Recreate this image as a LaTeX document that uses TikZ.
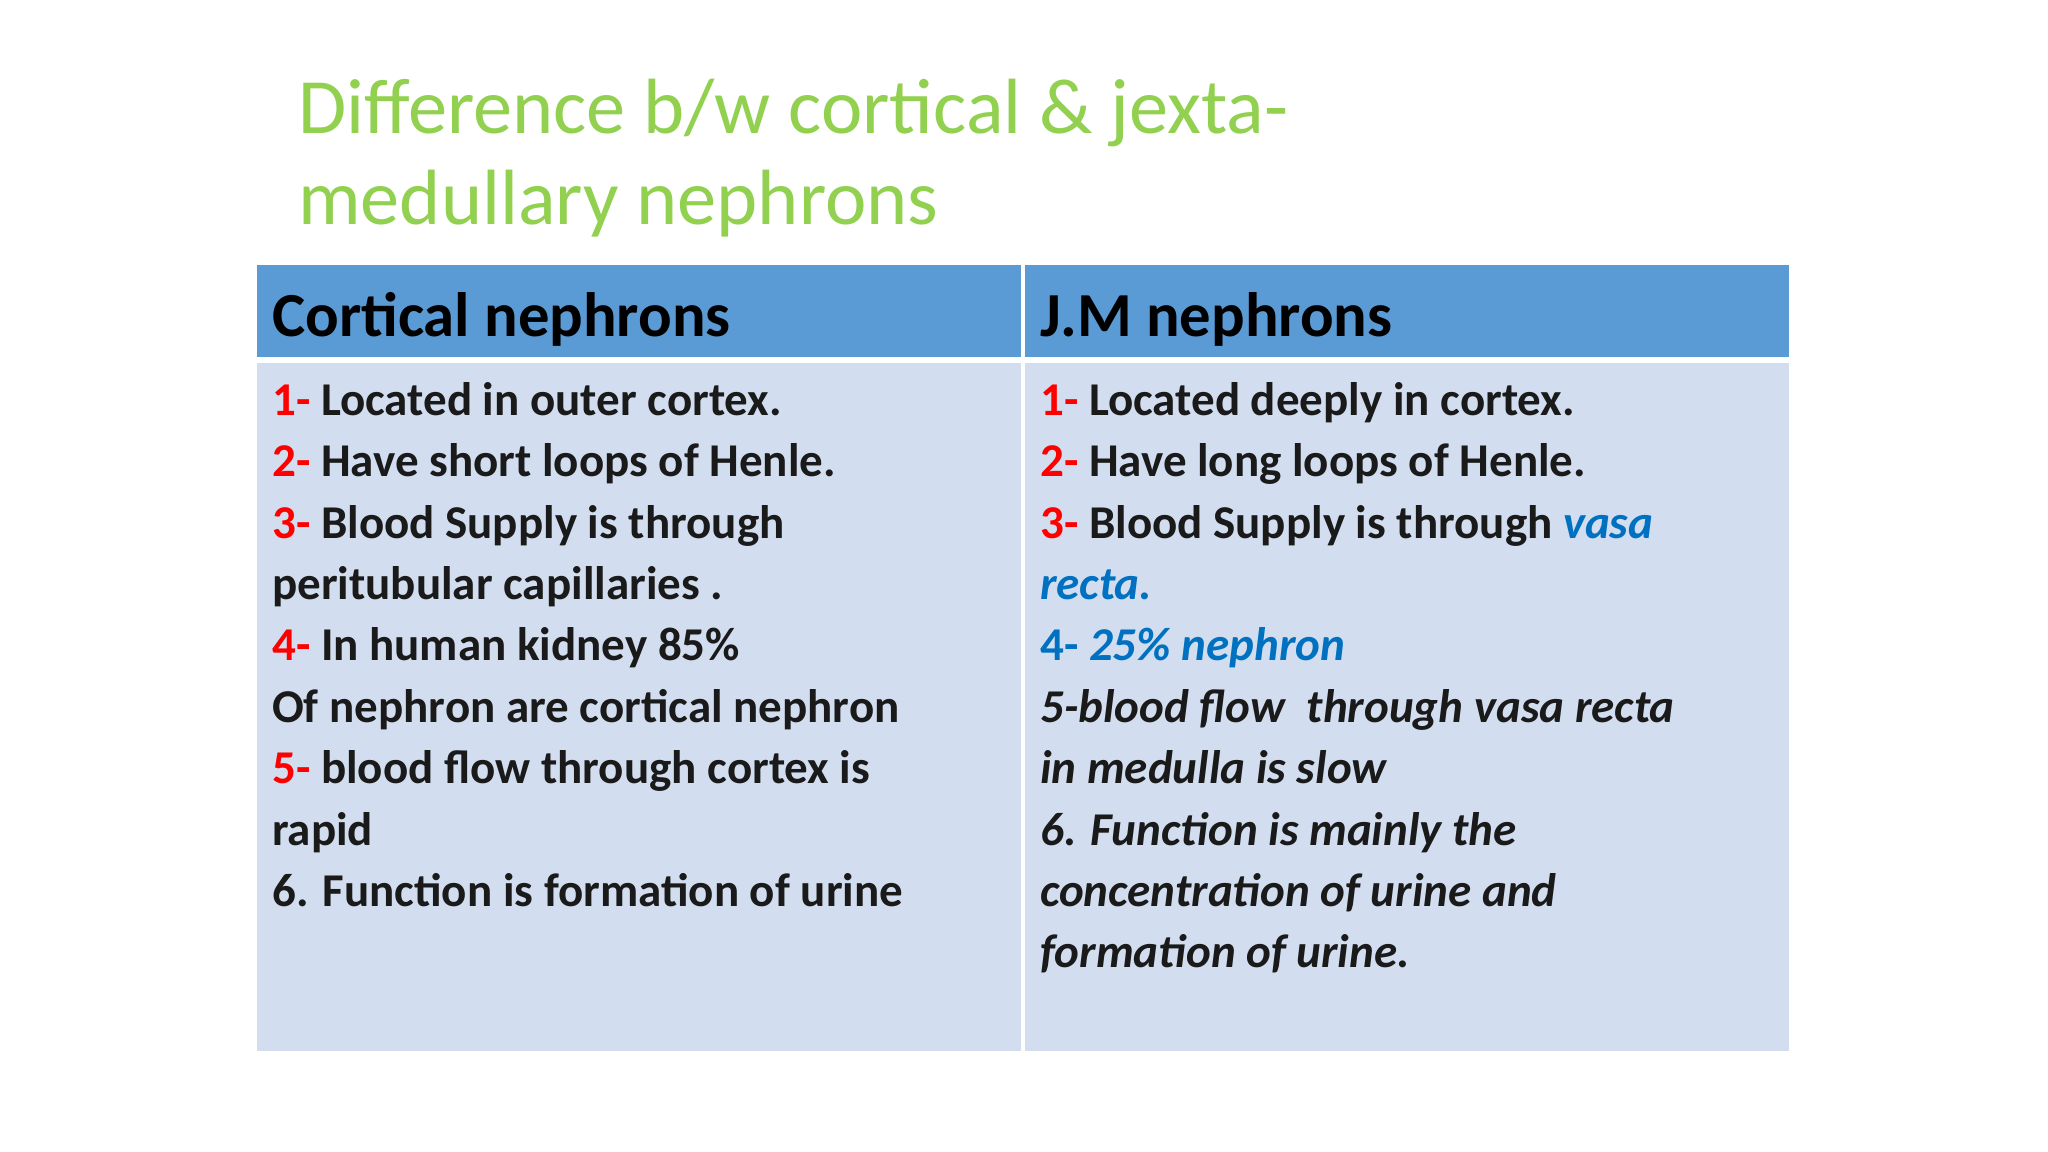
\documentclass[tikz,border=0pt]{standalone}
\usepackage{fontspec}
\setmainfont{Carlito}
\definecolor{hdr}{HTML}{5B9BD5}
\definecolor{bdy}{HTML}{D2DEEF}
\definecolor{ttl}{HTML}{92D050}
\definecolor{txt}{HTML}{1A1A1A}
\definecolor{nb}{HTML}{0070C0}
\definecolor{rd}{HTML}{FF0000}
\begin{document}
\begin{tikzpicture}[x=0.5pt,y=-0.5pt,
  ln/.style={anchor=base west,inner sep=0pt,font=\fontsize{18}{20}\selectfont\bfseries,text=txt},
  hd/.style={anchor=base west,inner sep=0pt,font=\fontsize{24}{26}\selectfont\bfseries,text=black},
  tt/.style={anchor=base west,inner sep=0pt,font=\fontsize{30}{32}\selectfont,text=ttl}]
\useasboundingbox (0,0) rectangle (1568,882);
\fill[white] (0,0) rectangle (1568,882);
\fill[hdr] (197,203) rectangle (1370,273);
\fill[bdy] (197,278) rectangle (1370,805);
\draw[white,line width=1.5pt] (783,203) -- (783,805);
\node[tt] (t1) at (228,102) {Difference b/w cortical \& jexta-};
\node[tt] (t2) at (228,172) {medullary nephrons};
\node[hd] (h1) at (208,258) {Cortical nephrons};
\node[hd] (h2) at (796,258) {J.M nephrons};
\node[ln] (a1) at (208,318) {\textcolor{rd}{1-} Located in outer cortex.};
\node[ln] (a2) at (208,365) {\textcolor{rd}{2-} Have short loops of Henle.};
\node[ln] (a3) at (208,412) {\textcolor{rd}{3-} Blood Supply is through};
\node[ln] (a4) at (208,459) {peritubular capillaries .};
\node[ln] (a5) at (208,506) {\textcolor{rd}{4-} In human kidney 85\%};
\node[ln] (a6) at (208,553) {Of nephron are cortical nephron};
\node[ln] (a7) at (208,600) {\textcolor{rd}{5-} blood flow through cortex is};
\node[ln] (a8) at (208,647) {rapid};
\node[ln] (a9) at (208,694) {6. Function is formation of urine};
\node[ln] (b1) at (796,318) {\textcolor{rd}{1-} Located deeply in cortex.};
\node[ln] (b2) at (796,365) {\textcolor{rd}{2-} Have long loops of Henle.};
\node[ln] (b3) at (796,412) {\textcolor{rd}{3-} Blood Supply is through \textcolor{nb}{\itshape vasa}};
\node[ln,text=nb] (b4) at (796,459) {\itshape recta.};
\node[ln,text=nb] (b5) at (796,506) {4- \itshape 25\% nephron};
\node[ln] (b6) at (796,553) {\itshape 5-blood flow\ \ through vasa recta};
\node[ln] (b7) at (796,600) {\itshape in medulla is slow};
\node[ln] (b8) at (796,647) {\itshape 6. Function is mainly the};
\node[ln] (b9) at (796,694) {\itshape concentration of urine and};
\node[ln] (b10) at (796,741) {\itshape formation of urine.};
\end{tikzpicture}
\end{document}
